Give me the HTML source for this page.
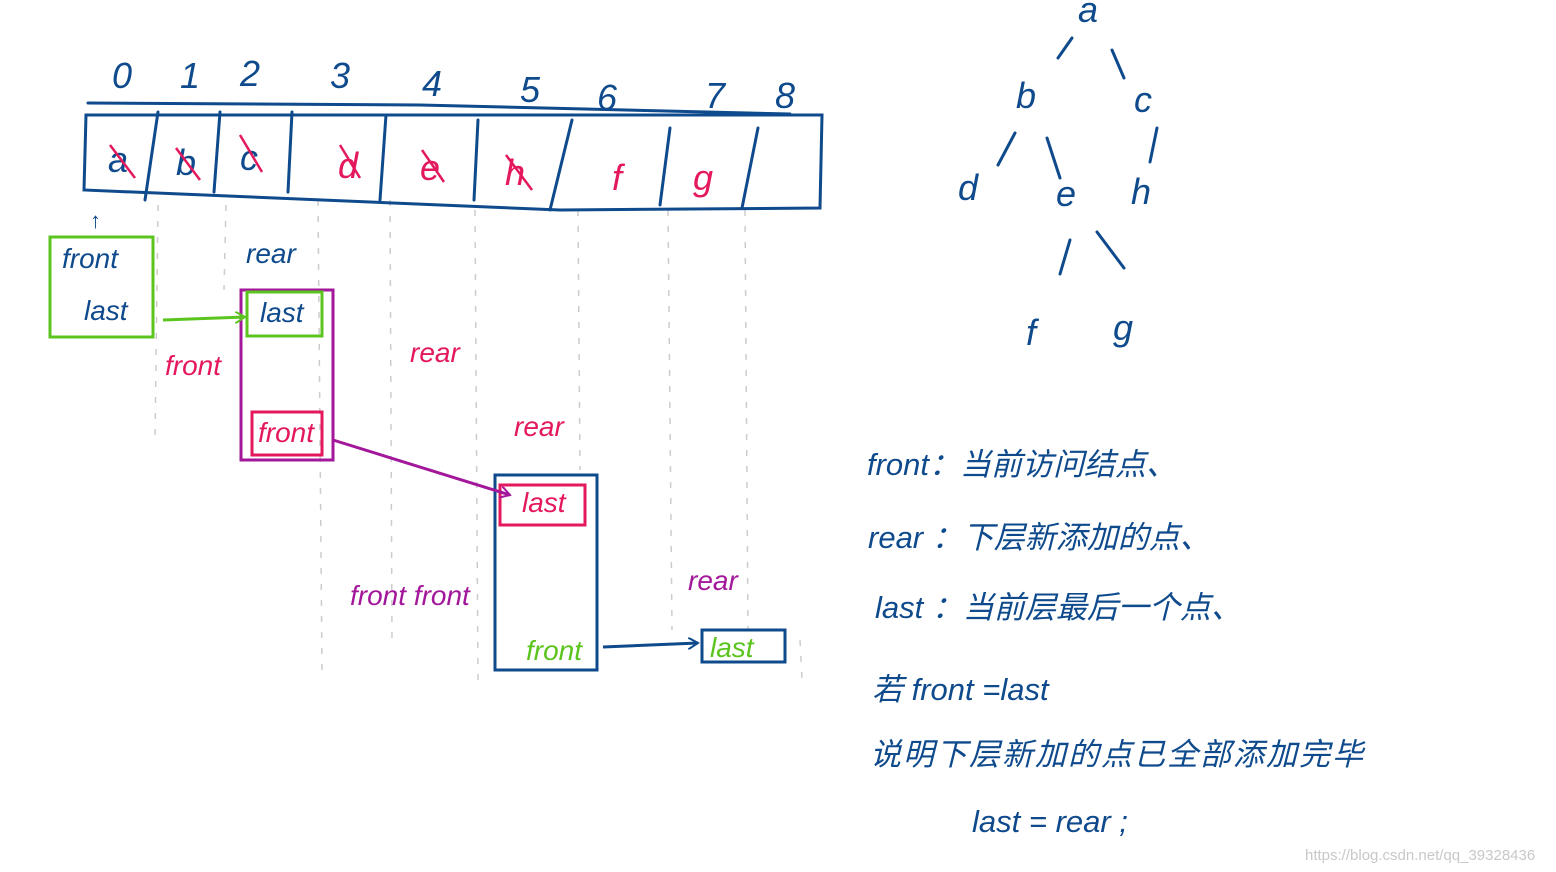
<!DOCTYPE html>
<html><head><meta charset="utf-8"><style>
html,body{margin:0;padding:0;background:#fff;}
svg{display:block;}
text{font-family:"Liberation Sans","Noto Sans CJK SC",sans-serif;font-style:italic;}
.b{fill:#0e4a8c}.r{fill:#e4185c}.g{fill:#5cc41e}.p{fill:#a3179b}
</style></head><body>
<svg width="1556" height="872" viewBox="0 0 1556 872" xmlns="http://www.w3.org/2000/svg">
<defs>
<marker id="ag" markerWidth="12" markerHeight="12" refX="10" refY="6" orient="auto" markerUnits="userSpaceOnUse"><path d="M0,0 L10,6 L0,12" fill="none" stroke="#5cc41e" stroke-width="2"/></marker>
<marker id="ap" markerWidth="12" markerHeight="12" refX="10" refY="6" orient="auto" markerUnits="userSpaceOnUse"><path d="M0,0 L10,6 L0,12" fill="none" stroke="#a3179b" stroke-width="2"/></marker>
<marker id="ab" markerWidth="12" markerHeight="12" refX="10" refY="6" orient="auto" markerUnits="userSpaceOnUse"><path d="M0,0 L10,6 L0,12" fill="none" stroke="#0e4a8c" stroke-width="2"/></marker>
</defs>
<g stroke="#ccc" stroke-width="1.5" stroke-dasharray="6,10" fill="none">
<line x1="158" y1="205" x2="155" y2="440"/><line x1="226" y1="205" x2="224" y2="290"/>
<line x1="318" y1="200" x2="322" y2="670"/><line x1="390" y1="200" x2="392" y2="640"/>
<line x1="475" y1="210" x2="478" y2="680"/><line x1="578" y1="210" x2="580" y2="470"/>
<line x1="668" y1="210" x2="672" y2="630"/><line x1="745" y1="210" x2="748" y2="630"/>
<line x1="800" y1="640" x2="802" y2="680"/>
</g>
<g stroke="#0e4a8c" stroke-width="3" fill="none" stroke-linecap="round">
<path d="M88,103 L420,105 L790,114"/>
<path d="M86,115 L822,115 L820,208 L560,210 L84,190 Z"/>
<path d="M158,112 L145,200"/><path d="M220,112 L214,192"/><path d="M292,112 L288,192"/>
<path d="M386,115 L380,200"/><path d="M478,120 L474,200"/><path d="M572,120 L550,210"/>
<path d="M670,128 L660,205"/><path d="M758,128 L742,208"/>
<path d="M1072,38 L1058,58"/><path d="M1112,50 L1124,78"/>
<path d="M1015,133 L998,165"/><path d="M1047,138 L1060,178"/><path d="M1157,128 L1150,162"/>
<path d="M1070,240 L1060,274"/><path d="M1097,232 L1124,268"/>
</g>
<g font-size="36" class="b">
<text x="112" y="88">0</text><text x="180" y="88">1</text><text x="240" y="86">2</text><text x="330" y="88">3</text><text x="422" y="96">4</text><text x="520" y="102">5</text><text x="597" y="110">6</text><text x="705" y="108">7</text><text x="775" y="108">8</text>
<text x="108" y="172">a</text><text x="176" y="175">b</text><text x="240" y="170">c</text>
<text x="1078" y="22">a</text><text x="1016" y="108">b</text><text x="1134" y="112">c</text><text x="958" y="200">d</text><text x="1056" y="206">e</text><text x="1131" y="204">h</text><text x="1026" y="345">f</text><text x="1113" y="340">g</text>
</g>
<g stroke="#e4185c" stroke-width="2.5"><line x1="110" y1="145" x2="135" y2="178"/><line x1="176" y1="148" x2="200" y2="180"/><line x1="240" y1="135" x2="262" y2="172"/></g>
<g font-size="36" class="r">
<text x="338" y="178">d</text><text x="420" y="180">e</text><text x="505" y="185">h</text><text x="612" y="190">f</text><text x="693" y="190">g</text>
</g>
<g stroke="#e4185c" stroke-width="2.5"><line x1="340" y1="145" x2="360" y2="178"/><line x1="422" y1="150" x2="444" y2="182"/><line x1="506" y1="155" x2="532" y2="190"/></g>
<text x="90" y="228" font-size="22" class="b">↑</text>
<g fill="none" stroke-width="3">
<rect x="50" y="237" width="103" height="100" stroke="#5cc41e"/>
<rect x="241" y="290" width="92" height="170" stroke="#a3179b"/>
<rect x="247" y="292" width="75" height="44" stroke="#5cc41e"/>
<rect x="252" y="412" width="70" height="43" stroke="#e4185c"/>
<rect x="495" y="475" width="102" height="195" stroke="#0e4a8c"/>
<rect x="500" y="485" width="85" height="40" stroke="#e4185c"/>
<rect x="702" y="630" width="83" height="32" stroke="#0e4a8c"/>
<line x1="163" y1="320" x2="245" y2="317" stroke="#5cc41e" marker-end="url(#ag)"/>
<line x1="333" y1="440" x2="510" y2="495" stroke="#a3179b" marker-end="url(#ap)"/>
<line x1="603" y1="647" x2="698" y2="643" stroke="#0e4a8c" marker-end="url(#ab)"/>
</g>
<g font-size="28">
<text x="62" y="268" class="b">front</text><text x="84" y="320" class="b">last</text>
<text x="260" y="322" class="b">last</text><text x="246" y="263" class="b">rear</text>
<text x="165" y="375" class="r">front</text><text x="258" y="442" class="r">front</text>
<text x="410" y="362" class="r">rear</text><text x="514" y="436" class="r">rear</text>
<text x="522" y="512" class="r">last</text>
<text x="350" y="605" class="p">front front</text><text x="688" y="590" class="p">rear</text>
<text x="526" y="660" class="g">front</text><text x="710" y="657" class="g">last</text>
</g>
<g font-size="31" class="b">
<text x="867" y="475">front：当前访问结点、</text>
<text x="868" y="548">rear ：下层新添加的点、</text>
<text x="875" y="618">last ：当前层最后一个点、</text>
<text x="872" y="700">若 front =last</text>
<text x="870" y="765" letter-spacing="2">说明下层新加的点已全部添加完毕</text>
<text x="972" y="832">last = rear ;</text>
</g>
<text x="1305" y="860" font-size="15" fill="#c8c8c8" style="font-style:normal">https://blog.csdn.net/qq_39328436</text>
</svg>
</body></html>
